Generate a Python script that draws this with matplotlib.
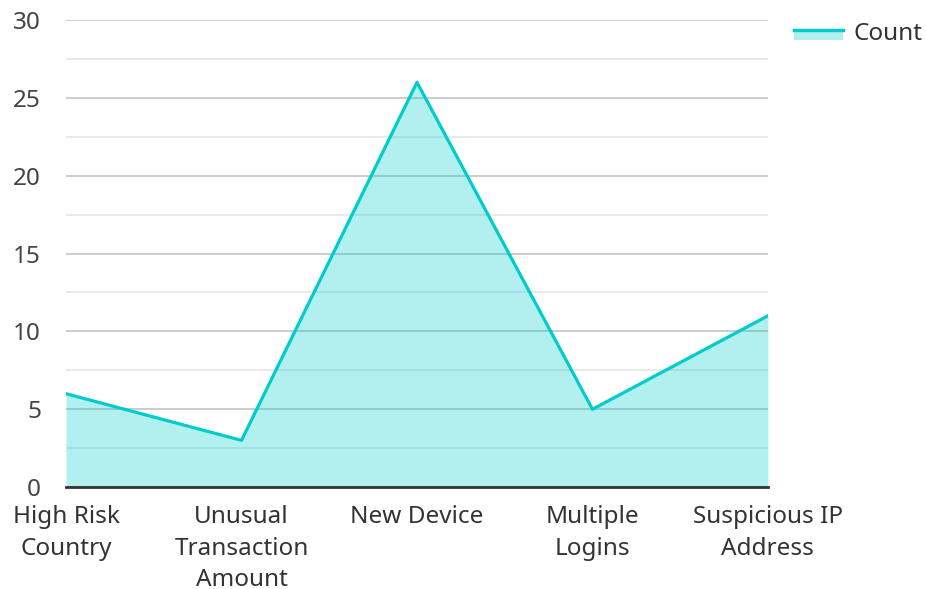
import matplotlib.pyplot as plt
import matplotlib.patches as mpatches
import matplotlib.lines as mlines
from matplotlib.legend_handler import HandlerBase

# Dados
categorias = ["High Risk\nCountry", "Unusual\nTransaction\nAmount", "New Device",
              "Multiple\nLogins", "Suspicious IP\nAddress"]
contagem = [6, 3, 26, 5, 11]
nome_serie = "Count"

cor_linha = "#00CCCC"
tam_fonte = 17.5

plt.rcParams['font.family'] = ['Noto Sans', 'DejaVu Sans']

fig = plt.figure(figsize=(9.26, 5.89), dpi=100)
ax = fig.add_axes([0.0713, 0.173, 0.758, 0.793])

x = list(range(len(categorias)))
ax.fill_between(x, contagem, 0, color=cor_linha, alpha=0.3, linewidth=0, zorder=2)
ax.plot(x, contagem, color=cor_linha, linewidth=2.3, zorder=3)

ax.set_xlim(0, len(categorias) - 1)
ax.set_ylim(0, 30)
ax.set_yticks([0, 5, 10, 15, 20, 25, 30])
ax.set_yticks([2.5, 7.5, 12.5, 17.5, 22.5, 27.5], minor=True)
ax.set_xticks(x)
ax.set_xticklabels(categorias, linespacing=1.42)

# grid
ax.grid(True, axis='y', which='major', color='#C8C8C8', linewidth=1.3, zorder=1)
ax.grid(True, axis='y', which='minor', color='#E8E8E8', linewidth=1.3, zorder=1)
ax.set_axisbelow(True)

for lado in ['top', 'right', 'left']:
    ax.spines[lado].set_visible(False)
ax.spines['bottom'].set_color('#333333')
ax.spines['bottom'].set_linewidth(2)
ax.spines['bottom'].set_zorder(4)

ax.tick_params(axis='both', which='both', length=0, labelsize=tam_fonte, colors='#444444')
ax.tick_params(axis='y', pad=18)
ax.tick_params(axis='x', pad=13)
for lbl in ax.get_xticklabels():
    lbl.set_color('#333333')


# legenda: linha sobre faixa preenchida
class HandlerArea(HandlerBase):
    def create_artists(self, legend, orig, xd, yd, w, h, fontsize, trans):
        rect = mpatches.Rectangle((xd, yd), w, h * 0.55, facecolor=cor_linha, alpha=0.3,
                                  linewidth=0, transform=trans)
        ln = mlines.Line2D([xd, xd + w], [yd + h * 0.55, yd + h * 0.55], color=cor_linha,
                           linewidth=2.5, transform=trans)
        return [rect, ln]


handle = mlines.Line2D([], [], color=cor_linha)
leg = fig.legend([handle], [nome_serie], handler_map={mlines.Line2D: HandlerArea()},
                 loc='upper left', bbox_to_anchor=(0.8465, 0.98), frameon=False,
                 fontsize=tam_fonte, handlelength=2.05, handletextpad=0.4, borderaxespad=0)
for t in leg.get_texts():
    t.set_color('#333333')

fig.savefig('out.png', dpi=100)
